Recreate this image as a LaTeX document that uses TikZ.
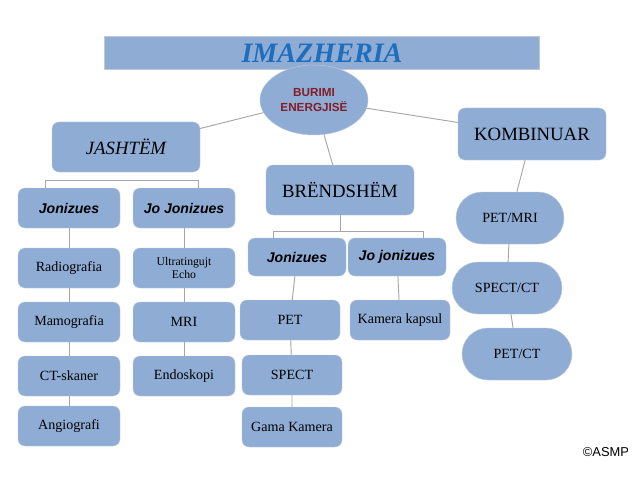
\documentclass[tikz,border=0pt]{standalone}
\usepackage{fontspec}
\setmainfont{Liberation Serif}
\newfontfamily\sansf{Liberation Sans}
\usetikzlibrary{shapes.geometric,positioning}
\definecolor{boxblue}{RGB}{142,172,212}
\definecolor{boxline}{RGB}{190,200,215}
\definecolor{titleblue}{RGB}{30,110,190}
\definecolor{darkred}{RGB}{130,30,40}

\begin{document}
\begin{tikzpicture}[
x=0.03cm, y=-0.03cm,
box/.style={draw=boxline, fill=boxblue, rounded corners=6pt, minimum width=#1*0.03cm, align=center, font=\fontsize{12}{13}\selectfont},
box/.default=102,
leaf/.style={box, minimum height=40*0.03cm},
kind/.style={leaf, font=\sansf\bfseries\itshape\fontsize{12}{13}\selectfont},
head/.style={box=148, minimum height=50*0.03cm, font=\fontsize{16}{18}\selectfont},
pill/.style={box=108, minimum height=52*0.03cm, rounded corners=26*0.03cm},
link/.style={draw=gray!70, thick}
]
    % frame
    \useasboundingbox (0,0) rectangle (638,478);

    % title and root
    \node[draw=boxline, fill=boxblue, minimum width=435*0.03cm, minimum height=33*0.03cm,
      font=\bfseries\itshape\fontsize{24}{26}\selectfont, text=titleblue] (title) at (322,53) {IMAZHERIA};
    \node[ellipse, draw=boxline, fill=boxblue, minimum width=108*0.03cm, minimum height=70*0.03cm,
      align=center, font=\sansf\bfseries\fontsize{10}{12}\selectfont, text=darkred] (root) at (314,100) {BURIMI\\ENERGJISË};

    % main branches
    \node[head, font=\itshape\fontsize{16}{18}\selectfont] (out) at (126,147) {JASHTËM};
    \node[head] (in) at (340,190) {BRËNDSHËM};
    \node[head, minimum height=52*0.03cm] (comb) at (532,134) {KOMBINUAR};

    % external
    \node[kind] (oution) at (69,208) {Jonizues};
    \node[kind] (outnon) at (184,208) {Jo Jonizues};
    \node[leaf] (radio) at (69,268) {Radiografia};
    \node[leaf] (mamo) at (69,322) {Mamografia};
    \node[leaf] (ctsk) at (69,376) {CT-skaner};
    \node[leaf] (angio) at (69,426) {Angiografi};
    \node[leaf, font=\fontsize{10}{11}\selectfont] (echo) at (184,268) {Ultratingujt\\Echo};
    \node[leaf] (mri) at (184,322) {MRI};
    \node[leaf] (endo) at (184,376) {Endoskopi};

    % internal
    \node[kind, minimum height=38*0.03cm, minimum width=98*0.03cm] (inion) at (297,257) {Jonizues};
    \node[kind, minimum height=38*0.03cm, minimum width=98*0.03cm] (innon) at (397,257) {Jo jonizues};
    \node[leaf, box=100] (pet) at (290,320) {PET};
    \node[leaf, box=100] (kapsul) at (400,320) {Kamera kapsul};
    \node[leaf, box=100] (spect) at (292,375) {SPECT};
    \node[leaf, box=100] (gama) at (292,427) {Gama Kamera};

    % combined
    \node[pill] (petmri) at (510,218) {PET/MRI};
    \node[pill, minimum width=110*0.03cm] (spectct) at (507,288) {SPECT/CT};
    \node[pill, minimum width=110*0.03cm] (petct) at (517,354) {PET/CT};

    \node[font=\sansf\fontsize{11}{12}\selectfont] (copy) at (606,452) {©ASMP};

    % connectors
    \coordinate (outL) at (45,180);
    \coordinate (outR) at (198,180);
    \coordinate (inL) at (273,231);
    \coordinate (inR) at (423,231);
    \path[link] (root) -- (out) (root) -- (in) (root) -- (comb);
    \path[link] (oution.north -| outL) -- (outL) -- (outR) -- (outnon.north -| outR);
    \path[link] (in.south) -- (in.south |- inL);
    \path[link] (inion.north -| inL) -- (inL) -- (inR) -- (innon.north -| inR);
    \path[link] (oution) -- (radio) (radio) -- (mamo) (mamo) -- (ctsk) (ctsk) -- (angio);
    \path[link] (outnon) -- (echo) (echo) -- (mri) (mri) -- (endo);
    \path[link] (inion) -- (pet) (pet) -- (spect) (spect) -- (gama);
    \path[link] (innon) -- (kapsul);
    \path[link] (comb) -- (petmri) (petmri) -- (spectct) (spectct) -- (petct);
\end{tikzpicture}
\end{document}
